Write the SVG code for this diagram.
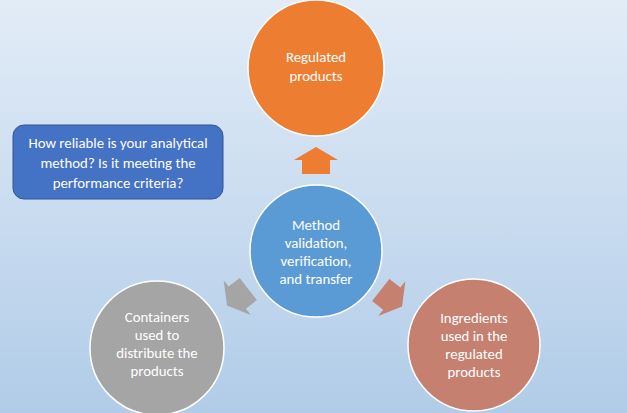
<svg xmlns="http://www.w3.org/2000/svg" width="627" height="413" viewBox="0 0 627 413">
<defs>
<linearGradient id="bg" x1="0" y1="0" x2="0" y2="1"><stop offset="0" stop-color="#e2ecf7"/><stop offset="1" stop-color="#b1cce8"/></linearGradient>
<path id="arr" d="M0,-14 L22,-1 L14,-1 L14,13 L-14,13 L-14,-1 L-22,-1 Z"/>
</defs>
<style>
text{font-family:Calibri,"Liberation Sans",sans-serif;font-size:14.8px;fill:#fff;text-anchor:middle}
.c{stroke:#fff;stroke-width:1.5}
</style>
<rect width="627" height="413" fill="url(#bg)"/>
<g id="connectors">
<use href="#arr" transform="translate(316,161)" fill="#ed7d31"/>
<use href="#arr" transform="translate(238,297) rotate(-128)" fill="#a5a5a5"/>
<use href="#arr" transform="translate(391,298) rotate(128)" fill="#c5806f"/>
</g>
<g id="question">
<rect x="13" y="125" width="210" height="74" rx="11" fill="#4472c4" stroke="#2f5597"/>
<text x="118" y="148">How reliable is your analytical</text>
<text x="118" y="168">method? Is it meeting the</text>
<text x="118" y="188">performance criteria?</text>
</g>
<g id="regulated">
<circle class="c" cx="316" cy="68" r="68" fill="#ed7d31"/>
<text x="316" y="62">Regulated</text>
<text x="316" y="81">products</text>
</g>
<g id="method">
<circle class="c" cx="316" cy="251" r="66" fill="#5b9bd5"/>
<text x="316" y="230">Method</text>
<text x="316" y="248">validation,</text>
<text x="316" y="266">verification,</text>
<text x="316" y="284">and  transfer</text>
</g>
<g id="containers">
<circle class="c" cx="157" cy="348" r="67" fill="#a5a5a5"/>
<text x="157" y="322">Containers</text>
<text x="157" y="340">used to</text>
<text x="157" y="358">distribute the</text>
<text x="157" y="376">products</text>
</g>
<g id="ingredients">
<circle class="c" cx="474" cy="345" r="66" fill="#c5806f"/>
<text x="474" y="323">Ingredients</text>
<text x="474" y="341">used in the</text>
<text x="474" y="359">regulated</text>
<text x="474" y="377">products</text>
</g>
</svg>
